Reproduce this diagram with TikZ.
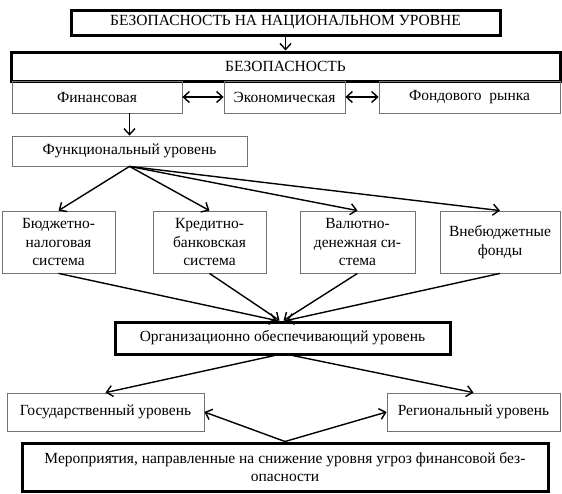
\documentclass[tikz,border=0pt]{standalone}
\usepackage{fontspec}
\setmainfont{Liberation Serif}
\usetikzlibrary{arrows.meta,calc}
\begin{document}
\begin{tikzpicture}[x=1pt,y=-1pt,
      >={Straight Barb[length=6pt,width=11pt]},
      thinbox/.style={rectangle,draw=black!55,line width=0.8pt,inner sep=0pt,
            align=center,font=\fontsize{15.5}{18.5}\selectfont},
      thickbox/.style={thinbox,draw=black,line width=3pt},
      link/.style={line width=1.4pt}]
      \useasboundingbox (0,0) rectangle (562,493);

      \node[thickbox,minimum width=429pt,minimum height=25pt] (nat) at (285.5,22.5)
            {БЕЗОПАСНОСТЬ НА НАЦИОНАЛЬНОМ УРОВНЕ};
      \node[thickbox,minimum width=549pt,minimum height=29pt] (bez) at (285.5,66.5)
            {БЕЗОПАСНОСТЬ};
      \node[thinbox,minimum width=170pt,minimum height=32pt] (fin) at (97,97)
            {Финансовая};
      \node[thinbox,minimum width=121pt,minimum height=32pt] (eko) at (284.5,97)
            {Экономическая};
      \node[thinbox,minimum width=181pt,minimum height=32pt] (fond) at (469.5,97)
            {Фондового\ \ рынка};
      \node[thinbox,minimum width=235pt,minimum height=30pt] (fun) at (129.5,151)
            {Функциональный уровень};

      \node[thinbox,minimum width=113pt,minimum height=62pt] (bud) at (58.5,242)
            {Бюджетно-\\налоговая\\система};
      \node[thinbox,minimum width=113pt,minimum height=62pt] (kred) at (209.5,242)
            {Кредитно-\\банковская\\система};
      \node[thinbox,minimum width=115pt,minimum height=62pt] (val) at (357.5,242)
            {Валютно-\\денежная си-\\стема};
      \node[thinbox,minimum width=120pt,minimum height=62pt] (vneb) at (500,242)
            {Внебюджетные\\фонды};

      \node[thickbox,minimum width=335pt,minimum height=32pt] (org) at (282.5,338)
            {Организационно обеспечивающий уровень};
      \node[thinbox,minimum width=197pt,minimum height=38pt] (gos) at (105.5,412)
            {Государственный уровень};
      \node[thinbox,minimum width=173pt,minimum height=38pt] (reg) at (473.5,412)
            {Региональный уровень};
      \node[thickbox,minimum width=526pt,minimum height=48pt] (mer) at (285,467)
            {Мероприятия, направленные на снижение уровня угроз финансовой без-\\опасности};

      \draw[link,->] (nat) -- (bez);
      \draw[link,<->] (fin) -- (eko);
      \draw[link,<->] (eko) -- (fond);
      \draw[link,->] (fun.north |- fin.south) -- (fun.north);

      \draw[link,->] (fun.south) -- (bud.north);
      \draw[link,->] (fun.south) -- (kred.north);
      \draw[link,->] (fun.south) -- (val.north);
      \draw[link,->] (fun.south) -- (vneb.north);

      \draw[link,->] (bud.south) -- ($(org.north)+(-6,0)$);
      \draw[link,->] (kred.south) -- ($(org.north)+(-3,0)$);
      \draw[link,->] (val.south) -- ($(org.north)+(1,0)$);
      \draw[link,->] (vneb.south) -- ($(org.north)+(4,0)$);

      \draw[link,->] ($(org.south)+(-8,0)$) -- (gos.north);
      \draw[link,->] ($(org.south)+(10,0)$) -- (reg.north);
      \draw[link,->] (mer.north) -- (gos.east);
      \draw[link,->] (mer.north) -- (reg.west);
\end{tikzpicture}
\end{document}
